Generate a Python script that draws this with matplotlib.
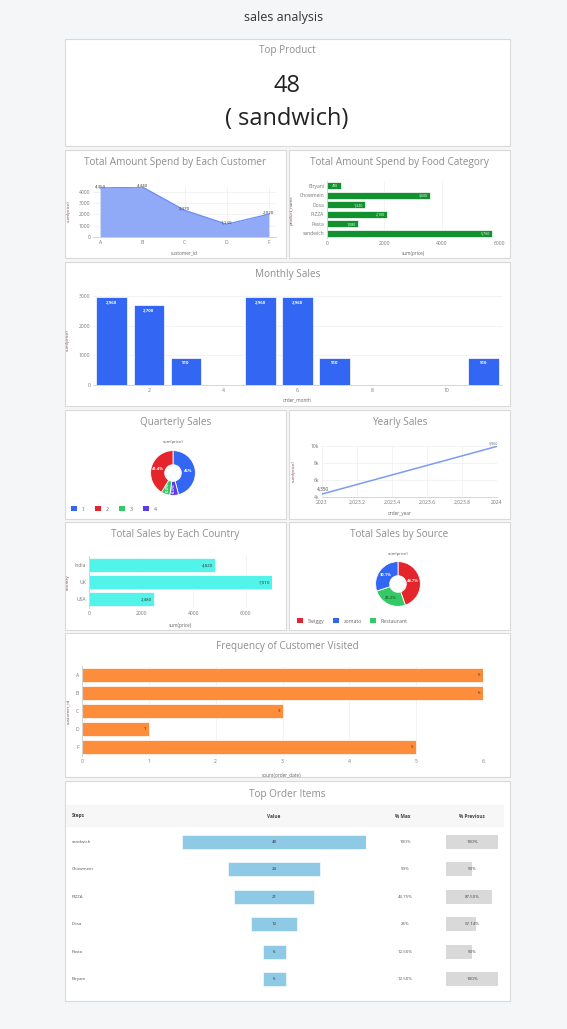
import matplotlib
matplotlib.use("Agg")
import matplotlib.pyplot as plt
from matplotlib.patches import Rectangle, Patch
from matplotlib.ticker import FuncFormatter
import numpy as np

plt.rcParams['font.family'] = ['Open Sans', 'DejaVu Sans']

# ---------------- data ----------------
top_product_count = 48
top_product_name = "sandwich"

customers = ["A", "B", "C", "D", "F"]
customer_amount = [4350, 4440, 2370, 1130, 2020]

food_items = ["Biryani", "Chowmein", "Dosa", "PIZZA", "Pasta", "sandwich"]
food_amount = [480, 3600, 1320, 2100, 1080, 5760]

months = [1, 2, 3, 5, 6, 7, 11]
month_sales = [2960, 2700, 910, 2960, 2960, 910, 910]

quarters = ["1", "4", "3", "2"]            # clockwise drawing order
quarter_share = [46.0, 6.3, 6.3, 41.4]
quarter_labels = ["46%", "6.3%", "6.3%", "41.4%"]
legend_quarters = ["1", "2", "3", "4"]

years = [2023, 2024]
year_sales = [4350, 9960]

countries = ["India", "UK", "USA"]
country_sales = [4820, 7010, 2480]

sources = ["Swiggy", "Restaurant", "zomato"]   # clockwise drawing order
source_share = [44.7, 25.2, 30.1]
legend_sources = ["Swiggy", "zomato", "Restaurant"]

freq_customers = ["A", "B", "C", "D", "F"]
freq_counts = [6, 6, 3, 1, 5]

steps = ["sandwich", "Chowmein", "PIZZA", "Dosa", "Pasta", "Biryani"]
step_values = [48, 24, 21, 12, 6, 6]
pct_max = ["100%", "50%", "43.75%", "25%", "12.50%", "12.50%"]
pct_prev = [100, 50, 87.5, 57.14, 50, 100]
pct_prev_labels = ["100%", "50%", "87.50%", "57.14%", "50%", "100%"]

# ---------------- colours ----------------
C_BLUE = "#3366f2"
C_RED = "#e4262c"
C_GREEN = "#35c965"
C_PURPLE = "#5a3de6"
quarter_colors = {"1": C_BLUE, "2": C_RED, "3": C_GREEN, "4": C_PURPLE}
source_colors = {"Swiggy": C_RED, "zomato": C_BLUE, "Restaurant": C_GREEN}

W, H = 567, 1029
fig = plt.figure(figsize=(W / 100, H / 100), dpi=100)
fig.patch.set_facecolor("#f5f6f8")

TICK = 3.6
TCOL = "#777777"


def fx(x):
    return x / W


def fy(y):
    return 1 - y / H


def panel(l, t, r, b, title, ty):
    rect = Rectangle((fx(l), fy(b)), (r - l) / W, (b - t) / H, transform=fig.transFigure,
                     facecolor="white", edgecolor="#dadada", lw=0.8, zorder=-2)
    fig.patches.append(rect)
    fig.text(fx((l + r) / 2), fy(ty), title, ha="center", va="center",
             fontsize=7.2, color="#8e8e8e")


def axpx(l, t, r, b):
    return fig.add_axes([fx(l), fy(b), (r - l) / W, (b - t) / H])


def style(ax, grid_axis="y"):
    ax.set_facecolor("none")
    for s in ["top", "right", "left"]:
        ax.spines[s].set_visible(False)
    ax.spines["bottom"].set_color("#cfcfcf")
    ax.spines["bottom"].set_linewidth(0.6)
    ax.tick_params(labelsize=TICK, colors=TCOL, length=0, pad=2)
    if grid_axis:
        ax.grid(axis=grid_axis, color="#eeeeee", lw=0.5)
    ax.set_axisbelow(True)


def ylab(x, y, text):
    fig.text(fx(x), fy(y), text, rotation=90, ha="center", va="center",
             fontsize=3.2, color="#6b4a4a")


def xlab(x, y, text):
    fig.text(fx(x), fy(y), text, ha="center", va="center", fontsize=3.4, color="#666666")


# ---------------- header ----------------
fig.text(0.5, fy(18), "sales analysis", ha="center", va="center", fontsize=9, color="#333333")

# ---------------- Top product ----------------
panel(65, 39, 510, 146, "Top Product", 51)
fig.text(fx(287), fy(86), str(top_product_count), ha="center", va="center", fontsize=17, color="#222222")
fig.text(fx(287), fy(119), "( " + top_product_name + ")", ha="center", va="center", fontsize=17, color="#222222")

# ---------------- Customer spend (area) ----------------
panel(65, 150, 286, 258, "Total Amount Spend by Each Customer", 162)
ax = axpx(93, 187, 276, 237)
xs = np.arange(len(customers))
ax.fill_between(xs, customer_amount, color="#8ba6f8", alpha=0.95, lw=0)
ax.plot(xs, customer_amount, color="#6d8ef4", lw=1.0)
ax.set_xlim(-0.17, len(customers) - 1 + 0.17)
ax.set_ylim(0, max(customer_amount))
ax.set_yticks([0, 1000, 2000, 3000, 4000])
ax.set_xticks(xs)
ax.set_xticklabels(customers)
style(ax, "both")
for x, v in zip(xs, customer_amount):
    ax.text(x, v, f"{v:,}", ha="center", va="bottom", fontsize=3.2, color="#333333", clip_on=False)
ylab(69, 211, "sum(price)")
xlab(184, 253, "customer_id")

# ---------------- Food category (barh) ----------------
panel(289, 150, 510, 258, "Total Amount Spend by Food Category", 162)
ax = axpx(327, 181, 499, 238)
ys = np.arange(len(food_items))
ax.barh(ys, food_amount, height=0.78, color="#12912f", edgecolor="white", lw=0.5)
ax.set_ylim(len(food_items) - 0.5, -0.5)
ax.set_xlim(0, 6000)
ax.set_yticks(ys)
ax.set_yticklabels(food_items)
ax.set_xticks([0, 2000, 4000, 6000])
style(ax, "x")
ax.spines["bottom"].set_visible(False)
ax.spines["left"].set_visible(True)
ax.spines["left"].set_color("#cfcfcf")
ax.spines["left"].set_linewidth(0.6)
for y, v in zip(ys, food_amount):
    ax.text(v - 80, y, f"{v:,}", ha="right", va="center", fontsize=2.6, color="white")
ylab(292, 210, "product_name")
xlab(413, 253, "sum(price)")

# ---------------- Monthly sales ----------------
panel(65, 262, 510, 406, "Monthly Sales", 274)
ax = axpx(93, 296, 502, 385)
ax.bar(months, month_sales, width=0.82, color=C_BLUE, edgecolor="white", lw=0.5)
ax.set_xlim(0.5, 11.5)
ax.set_ylim(0, 3000)
ax.set_xticks([2, 4, 6, 8, 10])
ax.set_yticks([0, 1000, 2000, 3000])
style(ax, "y")
for m, v in zip(months, month_sales):
    ax.text(m, v - 90, f"{v:,}", ha="center", va="top", fontsize=3.2, color="white", fontweight="bold")
ylab(68, 340, "sum(price)")
xlab(297, 400, "order_month")

# ---------------- Quarterly donut ----------------
panel(65, 410, 286, 519, "Quarterly Sales", 422)
ax = axpx(145, 445, 201, 501)
wedges, _ = ax.pie(quarter_share, colors=[quarter_colors[q] for q in quarters], startangle=90,
                   counterclock=False, radius=1.0,
                   wedgeprops=dict(width=0.63, edgecolor="white", linewidth=0.6))
ax.set_aspect("equal")
for w, lab in zip(wedges, quarter_labels):
    ang = np.deg2rad((w.theta1 + w.theta2) / 2)
    r = 0.68
    small = (w.theta2 - w.theta1) < 40
    ax.text(r * np.cos(ang), r * np.sin(ang), lab, ha="center", va="center",
            fontsize=3.0, color="white", fontweight="bold", rotation=90 if small else 0)
fig.text(fx(173), fy(442), "sum(price)", ha="center", va="center", fontsize=3.0, color="#555555")
handles = [Patch(facecolor=quarter_colors[q]) for q in legend_quarters]
fig.legend(handles, legend_quarters, loc="center left", bbox_to_anchor=(fx(69), fy(509)),
           ncol=4, frameon=False, fontsize=3.8, handlelength=1.1, handleheight=1.1,
           handletextpad=0.9, columnspacing=2.0, labelcolor="#666666", borderaxespad=0)

# ---------------- Yearly sales ----------------
panel(289, 410, 510, 519, "Yearly Sales", 422)
ax = axpx(322, 446, 497, 497)
ax.plot(years, year_sales, color="#7b9bf7", lw=1.1)
ax.set_xlim(years[0], years[-1])
ax.set_ylim(4000, 10000)
ax.set_yticks([4000, 6000, 8000, 10000])
ax.yaxis.set_major_formatter(FuncFormatter(lambda v, p: f"{int(v / 1000)}k"))
xt = [2023, 2023.2, 2023.4, 2023.6, 2023.8, 2024]
ax.set_xticks(xt)
ax.set_xticklabels(["2023", "2,023.2", "2,023.4", "2,023.6", "2,023.8", "2024"])
style(ax, "both")
ax.text(years[0] - 0.03, year_sales[0] + 250, f"{year_sales[0]:,}", ha="left", va="bottom",
        fontsize=3.4, color="#444444", clip_on=False)
ax.text(years[-1] - 0.02, year_sales[-1] + 150, f"{year_sales[-1]:,}", ha="center", va="bottom",
        fontsize=2.6, color="#666666", clip_on=False)
ylab(294, 471, "sum(price)")
xlab(400, 514, "order_year")

# ---------------- Country (barh) ----------------
panel(65, 522, 286, 630, "Total Sales by Each Country", 534)
ax = axpx(89, 556, 272, 608)
ys = np.arange(len(countries))
ax.barh(ys, country_sales, height=0.82, color="#52f3e8", edgecolor="white", lw=0.5)
ax.set_ylim(len(countries) - 0.5, -0.5)
ax.set_xlim(0, max(country_sales))
ax.set_yticks(ys)
ax.set_yticklabels(countries)
ax.set_xticks([0, 2000, 4000, 6000])
style(ax, "x")
ax.spines["bottom"].set_visible(False)
ax.spines["left"].set_visible(True)
ax.spines["left"].set_color("#cfcfcf")
ax.spines["left"].set_linewidth(0.6)
for y, v in zip(ys, country_sales):
    ax.text(v - 80, y, f"{v:,}", ha="right", va="center", fontsize=3.2, color="#333333")
ylab(68, 582, "country")
xlab(180, 625, "sum(price)")

# ---------------- Source donut ----------------
panel(289, 522, 510, 630, "Total Sales by Source", 534)
ax = axpx(370, 556, 426, 612)
wedges, _ = ax.pie(source_share, colors=[source_colors[s] for s in sources], startangle=90,
                   counterclock=False, radius=1.0,
                   wedgeprops=dict(width=0.63, edgecolor="white", linewidth=0.6))
ax.set_aspect("equal")
for w, s, v in zip(wedges, sources, source_share):
    ang = np.deg2rad((w.theta1 + w.theta2) / 2)
    r = 0.68
    ax.text(r * np.cos(ang), r * np.sin(ang), f"{v}%", ha="center", va="center",
            fontsize=3.0, color="#2a6b3a" if s == "Restaurant" else "white", fontweight="bold")
fig.text(fx(398), fy(554), "sum(price)", ha="center", va="center", fontsize=3.0, color="#555555")
handles = [Patch(facecolor=source_colors[s]) for s in legend_sources]
fig.legend(handles, legend_sources, loc="center left", bbox_to_anchor=(fx(295), fy(621)),
           ncol=3, frameon=False, fontsize=3.8, handlelength=1.1, handleheight=1.1,
           handletextpad=0.9, columnspacing=1.6, labelcolor="#666666", borderaxespad=0)

# ---------------- Frequency (barh) ----------------
panel(65, 633, 510, 777, "Frequency of Customer Visited", 646)
ax = axpx(82, 666, 483, 756)
ys = np.arange(len(freq_customers))
ax.barh(ys, freq_counts, height=0.78, color="#fd8c3b", edgecolor="white", lw=0.5)
ax.set_ylim(len(freq_customers) - 0.5, -0.5)
ax.set_xlim(0, 6)
ax.set_yticks(ys)
ax.set_yticklabels(freq_customers)
ax.set_xticks(range(7))
style(ax, "x")
ax.spines["bottom"].set_visible(False)
ax.spines["left"].set_visible(True)
ax.spines["left"].set_color("#cfcfcf")
ax.spines["left"].set_linewidth(0.6)
for y, v in zip(ys, freq_counts):
    ax.text(v - 0.04, y, str(v), ha="right", va="center", fontsize=3.2, color="#333333")
ylab(68, 711, "customer_id")
xlab(282, 775, "count(order_date)")

# ---------------- Top order items table ----------------
panel(65, 781, 510, 1001, "Top Order Items", 795)
hdr = Rectangle((fx(66), fy(827)), (504 - 66) / W, 22 / H, transform=fig.transFigure,
                facecolor="#f7f7f7", edgecolor="none", zorder=-1)
fig.patches.append(hdr)
hy = 816
for x, t, ha in [(72, "Steps", "left"), (274, "Value", "center"), (403, "% Max", "center"),
                 (472, "% Previous", "center")]:
    fig.text(fx(x), fy(hy), t, ha=ha, va="center", fontsize=3.4, color="#444444", fontweight="bold")

row_top, row_bot = 828, 993
ax = axpx(182, row_top, 366, row_bot)
ys = np.arange(len(steps))
vals = np.array(step_values, dtype=float)
ax.barh(ys, vals, left=-vals / 2, height=0.5, color="#8ecae6", edgecolor="white", lw=0.4)
ax.set_xlim(-max(step_values) / 2, max(step_values) / 2)
ax.set_ylim(len(steps) - 0.5, -0.5)
ax.axis("off")
for y, v in zip(ys, step_values):
    ax.text(0, y, str(v), ha="center", va="center", fontsize=3.2, color="#333333")

ax2 = axpx(446, row_top, 498, row_bot)
ax2.barh(ys, pct_prev, height=0.5, color="#d9d9d9")
ax2.set_xlim(0, 100)
ax2.set_ylim(len(steps) - 0.5, -0.5)
ax2.axis("off")
for y, lab in zip(ys, pct_prev_labels):
    ax2.text(50, y, lab, ha="center", va="center", fontsize=3.2, color="#444444")

ax3 = axpx(66, row_top, 182, row_bot)
ax3.set_xlim(0, 1)
ax3.set_ylim(len(steps) - 0.5, -0.5)
ax3.axis("off")
for y, s in zip(ys, steps):
    ax3.text(6 / 116, y, s, ha="left", va="center", fontsize=3.2, color="#555555")

ax4 = axpx(366, row_top, 446, row_bot)
ax4.set_xlim(0, 80)
ax4.set_ylim(len(steps) - 0.5, -0.5)
ax4.axis("off")
for y, s in zip(ys, pct_max):
    ax4.text(39, y, s, ha="center", va="center", fontsize=3.2, color="#555555")

fig.savefig("out.png", dpi=100, facecolor=fig.get_facecolor())
